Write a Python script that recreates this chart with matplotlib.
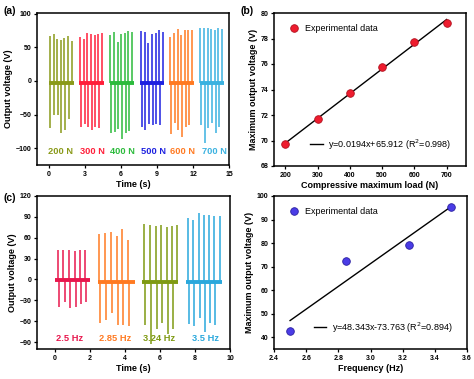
import matplotlib
matplotlib.use("Agg")
import matplotlib.pyplot as plt
import numpy as np

plt.rcParams['font.family'] = ['Liberation Sans', 'DejaVu Sans']

# ---------------- Panel (a) data ----------------
a_labels = ["200 N", "300 N", "400 N", "500 N", "600 N", "700 N"]
a_colors = ["#8a9a1a", "#ff1f3a", "#2cbb3c", "#1e22e0", "#ff7a22", "#3bb2e0"]
a_start = [0.0, 2.5, 5.05, 7.6, 10.0, 12.55]
a_end = [2.05, 4.6, 7.1, 9.6, 12.1, 14.6]
a_base = [-3, -3, -3, -3, -3, -3]
a_pos_t = [
    [0.06, 0.39, 0.67, 0.98, 1.29, 1.60, 1.91],
    [2.60, 2.90, 3.20, 3.50, 3.80, 4.10, 4.42],
    [5.12, 5.42, 5.72, 6.02, 6.32, 6.62, 6.95],
    [7.68, 7.98, 8.28, 8.58, 8.88, 9.18, 9.48],
    [10.12, 10.42, 10.72, 11.02, 11.32, 11.62, 11.95],
    [12.62, 12.92, 13.22, 13.52, 13.82, 14.12, 14.45],
]
a_pos_v = [
    [67, 70, 62, 61, 64, 67, 60],
    [66, 62, 72, 70, 69, 70, 72],
    [68, 73, 58, 70, 71, 74, 73],
    [74, 73, 56, 70, 72, 75, 73],
    [66, 71, 77, 69, 75, 75, 75],
    [79, 78, 78, 77, 75, 78, 77],
]
a_neg_t = [
    [0.12, 0.45, 0.73, 1.04, 1.35, 1.66],
    [2.66, 2.96, 3.26, 3.56, 3.86, 4.16],
    [5.18, 5.48, 5.78, 6.08, 6.38, 6.68],
    [7.74, 8.04, 8.34, 8.64, 8.94, 9.24],
    [10.18, 10.48, 10.78, 11.08, 11.38, 11.68],
    [12.68, 12.98, 13.28, 13.58, 13.88, 14.18],
]
a_neg_v = [
    [-70, -50, -51, -78, -73, -56],
    [-68, -64, -68, -73, -69, -70],
    [-77, -76, -72, -86, -77, -75],
    [-69, -73, -64, -65, -64, -66],
    [-79, -62, -73, -83, -69, -66],
    [-65, -93, -70, -63, -78, -69],
]
a_lab_x = [1.0, 3.6, 6.15, 8.7, 11.15, 13.75]

# ---------------- Panel (b) data ----------------
b_load = [200, 300, 400, 500, 600, 700]
b_volt = [69.7, 71.7, 73.7, 75.75, 77.75, 79.25]
b_slope, b_inter = 0.0194, 65.912

# ---------------- Panel (c) data ----------------
c_labels = ["2.5 Hz", "2.85 Hz", "3.24 Hz", "3.5 Hz"]
c_colors = ["#e8174d", "#ff7a22", "#7f9a12", "#2aa8dc"]
c_start = [0.04, 2.5, 4.97, 7.48]
c_end = [2.03, 4.6, 7.06, 9.53]
c_base = [-1, -3, -3, -3]
c_pos_t = [
    [0.19, 0.51, 0.83, 1.16, 1.46, 1.76],
    [2.54, 2.90, 3.23, 3.55, 3.87, 4.21],
    [5.12, 5.45, 5.77, 6.07, 6.39, 6.70, 7.00],
    [7.63, 7.91, 8.24, 8.52, 8.82, 9.11, 9.43],
]
c_pos_v = [
    [42, 42, 42, 41, 42, 42],
    [65, 67, 68, 63, 72, 57],
    [80, 78, 77, 78, 76, 77, 78],
    [88, 86, 95, 92, 92, 91, 91],
]
c_neg_t = [
    [0.25, 0.57, 0.89, 1.22, 1.52, 1.82],
    [2.60, 2.96, 3.29, 3.61, 3.93, 4.27],
    [5.18, 5.51, 5.83, 6.13, 6.45, 6.76],
    [7.69, 7.97, 8.30, 8.58, 8.88, 9.17],
]
c_neg_v = [
    [-40, -33, -41, -39, -35, -32],
    [-62, -59, -48, -65, -66, -67],
    [-66, -93, -71, -62, -78, -71],
    [-64, -67, -55, -76, -63, -65],
]
c_lab_x = [0.85, 3.45, 5.95, 8.6]

# ---------------- Panel (d) data ----------------
d_freq = [2.5, 2.85, 3.24, 3.5]
d_volt = [42.5, 72.3, 79.2, 95.2]
d_slope, d_inter = 48.343, -73.763

W, H = 474, 379
fig = plt.figure(figsize=(W / 100, H / 100), dpi=100)

ax_a = fig.add_axes([37 / W, 1 - 165 / H, 192 / W, 152 / H])
ax_b = fig.add_axes([274 / W, 1 - 166 / H, 192 / W, 153 / H])
ax_c = fig.add_axes([37 / W, 1 - 349 / H, 193 / W, 153 / H])
ax_d = fig.add_axes([274 / W, 1 - 349 / H, 193 / W, 153 / H])

tick_fs = 5.0
lab_fs = 6.5


def style(ax):
    for s in ax.spines.values():
        s.set_linewidth(1.1)
    ax.tick_params(labelsize=tick_fs, width=0.9, length=2.5, pad=1.5)
    for t in ax.get_xticklabels() + ax.get_yticklabels():
        t.set_fontweight('bold')


def spikes(ax, starts, ends, bases, pt, pv, nt, nv, colors, labels, labx, laby):
    for i in range(len(starts)):
        c = colors[i]
        ax.plot([starts[i], ends[i]], [bases[i], bases[i]], color=c, lw=2.8,
                solid_capstyle='butt')
        ax.vlines(pt[i], bases[i], pv[i], color=c, lw=1.1)
        ax.vlines(nt[i], nv[i], bases[i], color=c, lw=1.1)
        ax.text(labx[i], laby, labels[i], color=c, fontsize=6.7, fontweight='bold',
                ha='center', va='center')


# (a)
spikes(ax_a, a_start, a_end, a_base, a_pos_t, a_pos_v, a_neg_t, a_neg_v,
       a_colors, a_labels, a_lab_x, -105)
ax_a.set_xlim(-1, 15)
ax_a.set_ylim(-125, 101)
ax_a.set_xticks([0, 3, 6, 9, 12, 15])
ax_a.set_yticks([-100, -50, 0, 50, 100])
ax_a.set_xlabel("Time (s)", fontsize=lab_fs, fontweight='bold', labelpad=2)
ax_a.set_ylabel("Output voltage (V)", fontsize=lab_fs, fontweight='bold', labelpad=2)
style(ax_a)

# (b)
xb = np.array([b_load[0], b_load[-1]])
ax_b.plot(xb, b_slope * xb + b_inter, color='black', lw=1.0,
          label="y=0.0194x+65.912 (R$^2$=0.998)")
ax_b.scatter(b_load, b_volt, s=30, color='#ee1c2e', edgecolor='#b0101e',
             linewidth=0.6, zorder=3, label="Experimental data")
ax_b.set_xlim(165, 760)
ax_b.set_ylim(68, 80)
ax_b.set_xticks([200, 300, 400, 500, 600, 700])
ax_b.set_yticks([68, 70, 72, 74, 76, 78, 80])
ax_b.set_xlabel("Compressive maximum load (N)", fontsize=lab_fs, fontweight='bold', labelpad=2)
ax_b.set_ylabel("Maximum output voltage (V)", fontsize=lab_fs, fontweight='bold', labelpad=2)
h, l = ax_b.get_legend_handles_labels()
leg1 = ax_b.legend([h[1]], [l[1]], loc='upper left', frameon=False, fontsize=6.5,
                   handletextpad=0.2, borderaxespad=0.8, scatterpoints=1)
ax_b.add_artist(leg1)
ax_b.legend([h[0]], [l[0]], loc='lower right', frameon=False, fontsize=6.5,
            handlelength=1.4, handletextpad=0.6, borderaxespad=1.2)
style(ax_b)

# (c)
spikes(ax_c, c_start, c_end, c_base, c_pos_t, c_pos_v, c_neg_t, c_neg_v,
       c_colors, c_labels, c_lab_x, -85)
ax_c.set_xlim(-1, 10)
ax_c.set_ylim(-100, 120)
ax_c.set_xticks([0, 2, 4, 6, 8, 10])
ax_c.set_yticks([-90, -60, -30, 0, 30, 60, 90, 120])
ax_c.set_xlabel("Time (s)", fontsize=lab_fs, fontweight='bold', labelpad=2)
ax_c.set_ylabel("Output voltage (V)", fontsize=lab_fs, fontweight='bold', labelpad=2)
style(ax_c)

# (d)
xd = np.array([d_freq[0], d_freq[-1]])
ax_d.plot(xd, d_slope * xd + d_inter, color='black', lw=1.0,
          label="y=48.343x-73.763 (R$^2$=0.894)")
ax_d.scatter(d_freq, d_volt, s=30, color='#4a3ce6', edgecolor='#2a1fa0',
             linewidth=0.6, zorder=3, label="Experimental data")
ax_d.set_xlim(2.4, 3.6)
ax_d.set_ylim(35, 100)
ax_d.set_xticks([2.4, 2.6, 2.8, 3.0, 3.2, 3.4, 3.6])
ax_d.set_yticks([40, 50, 60, 70, 80, 90, 100])
ax_d.set_xlabel("Frequency (Hz)", fontsize=lab_fs, fontweight='bold', labelpad=2)
ax_d.set_ylabel("Maximum output voltage (V)", fontsize=lab_fs, fontweight='bold', labelpad=2)
h, l = ax_d.get_legend_handles_labels()
leg2 = ax_d.legend([h[1]], [l[1]], loc='upper left', frameon=False, fontsize=6.5,
                   handletextpad=0.2, borderaxespad=0.8, scatterpoints=1)
ax_d.add_artist(leg2)
ax_d.legend([h[0]], [l[0]], loc='lower right', frameon=False, fontsize=6.5,
            handlelength=1.4, handletextpad=0.6, borderaxespad=1.2)
style(ax_d)

fig.text(4 / W, 1 - 11 / H, "(a)", fontsize=7.5, fontweight='bold', va='center')
fig.text(240 / W, 1 - 11 / H, "(b)", fontsize=7.5, fontweight='bold', va='center')
fig.text(4 / W, 1 - 198 / H, "(c)", fontsize=7.5, fontweight='bold', va='center')

fig.savefig("out.png", dpi=100)
